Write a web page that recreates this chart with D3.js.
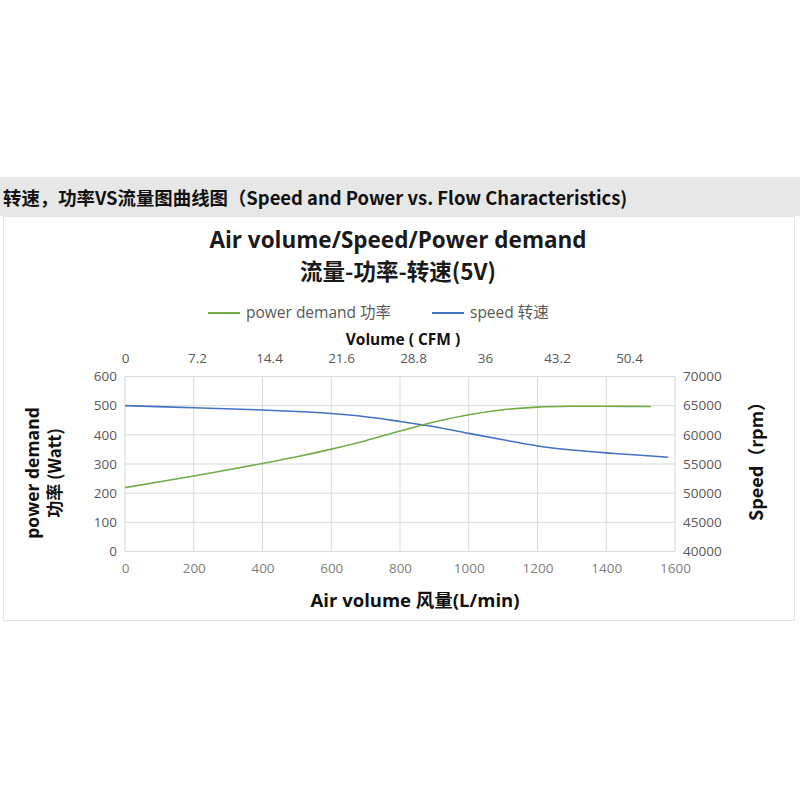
<!DOCTYPE html>
<html>
<head>
<meta charset="utf-8">
<script src="https://cdn.jsdelivr.net/npm/d3@7"></script>
<style>
  body { margin: 0; background: #fff; }
  text { font-family: "Open Sans", "Noto Sans CJK SC", sans-serif; }
  .cjk { font-family: "Noto Sans CJK SC", "Noto Sans", sans-serif; }
  .lat { font-family: "Open Sans", "Noto Sans CJK SC", sans-serif; }
</style>
</head>
<body>
<svg id="chart" width="800" height="800"></svg>
<script>
// data
const powerFlow = [0, 200, 400, 500, 600, 700, 800, 900, 1000, 1100, 1200, 1300, 1400, 1530];
const powerValues = [219, 259, 302, 325, 351, 380, 413, 444, 469, 486, 495, 498, 498, 497];
const speedFlow = [0, 200, 400, 500, 600, 700, 800, 900, 1000, 1100, 1200, 1300, 1400, 1500, 1580];
const speedValues = [65000, 64650, 64250, 64000, 63650, 63100, 62300, 61400, 60250, 59150, 58100, 57400, 56900, 56500, 56150];
const flowTicks = [0, 200, 400, 600, 800, 1000, 1200, 1400, 1600];
const cfmTicks = [0, 7.2, 14.4, 21.6, 28.8, 36, 43.2, 50.4];
const powerTicks = [0, 100, 200, 300, 400, 500, 600];
const speedTicks = [40000, 45000, 50000, 55000, 60000, 65000, 70000];

const green = '#70ad47';
const blue = '#4472c4';
const tickColor = '#595959';
const gridColor = '#d9d9d9';

const svg = d3.select('#chart');

// header band
svg.append('rect')
    .attr('x', 0).attr('y', 177).attr('width', 800).attr('height', 39)
    .attr('fill', '#e7e7e7');
svg.append('text')
    .attr('class', 'cjk')
    .attr('x', 3).attr('y', 205)
    .attr('font-size', 18.4).attr('font-weight', 'bold').attr('fill', '#111')
    .text('转速，功率VS流量图曲线图（Speed and Power vs. Flow Characteristics)');

// chart box
svg.append('rect')
    .attr('x', 3.5).attr('y', 216.5).attr('width', 791).attr('height', 404)
    .attr('fill', '#fff').attr('stroke', '#e6e6e6');

// titles
svg.append('text')
    .attr('class', 'lat')
    .attr('x', 398).attr('y', 248)
    .attr('text-anchor', 'middle')
    .attr('font-size', 22.5).attr('font-weight', 'bold').attr('fill', '#1a1a1a')
    .text('Air volume/Speed/Power demand');
svg.append('text')
    .attr('class', 'cjk')
    .attr('x', 398).attr('y', 280)
    .attr('text-anchor', 'middle')
    .attr('font-size', 22.5).attr('font-weight', 'bold').attr('fill', '#1a1a1a')
    .text('流量-功率-转速(5V)');

// legend
const legend = [
    {label: 'power demand 功率', color: green, x: 208},
    {label: 'speed 转速', color: blue, x: 432}
];
const lg = svg.append('g').selectAll('g').data(legend).enter().append('g')
    .attr('transform', d => `translate(${d.x},313)`);
lg.append('line')
    .attr('x1', 0).attr('x2', 32)
    .attr('stroke', d => d.color).attr('stroke-width', 2);
lg.append('text')
    .attr('class', 'lat')
    .attr('x', 38).attr('dy', '0.35em')
    .attr('font-size', 15.5).attr('fill', tickColor)
    .text(d => d.label);

// plot area
const plotLeft = 125, plotRight = 675, plotTop = 376.5, plotBottom = 551.5;

const x = d3.scaleLinear().domain([0, 1600]).range([plotLeft, plotRight]);
const xTop = d3.scaleLinear().domain([0, 55]).range([plotLeft, plotRight]);
const yLeft = d3.scaleLinear().domain([0, 600]).range([plotBottom, plotTop]);
const yRight = d3.scaleLinear().domain([40000, 70000]).range([plotBottom, plotTop]);

// grid
svg.append('g')
    .selectAll('line')
    .data(powerTicks)
    .enter().append('line')
    .attr('x1', plotLeft).attr('x2', plotRight)
    .attr('y1', d => yLeft(d)).attr('y2', d => yLeft(d))
    .attr('stroke', gridColor);
svg.append('g')
    .selectAll('line')
    .data(flowTicks)
    .enter().append('line')
    .attr('x1', d => x(d)).attr('x2', d => x(d))
    .attr('y1', plotTop).attr('y2', plotBottom)
    .attr('stroke', gridColor);

// axes
function styleAxis(g) {
    g.select('.domain').remove();
    g.selectAll('.tick line').remove();
    g.selectAll('.tick text')
        .attr('fill', tickColor)
        .attr('font-size', 13.5)
        .attr('font-family', '"Open Sans", sans-serif');
}

svg.append('g')
    .attr('transform', `translate(0,${plotBottom + 8})`)
    .call(d3.axisBottom(x).tickValues(flowTicks).tickFormat(d3.format('d')).tickSize(0).tickPadding(4))
    .call(styleAxis)
    .call(g => g.selectAll('.tick text').attr('fill', '#808080'));

svg.append('g')
    .attr('transform', `translate(0,${plotTop - 10})`)
    .call(d3.axisTop(xTop).tickValues(cfmTicks).tickFormat(d => String(d)).tickSize(0).tickPadding(4))
    .call(styleAxis);

svg.append('g')
    .attr('transform', `translate(${plotLeft - 8},0)`)
    .call(d3.axisLeft(yLeft).tickValues(powerTicks).tickSize(0).tickPadding(0))
    .call(styleAxis);

svg.append('g')
    .attr('transform', `translate(${plotRight + 8},0)`)
    .call(d3.axisRight(yRight).tickValues(speedTicks).tickFormat(d3.format('d')).tickSize(0).tickPadding(0))
    .call(styleAxis);

// lines
const powerLine = d3.line()
    .x((d, i) => x(powerFlow[i]))
    .y(d => yLeft(d))
    .curve(d3.curveCatmullRom.alpha(0.5));
const speedLine = d3.line()
    .x((d, i) => x(speedFlow[i]))
    .y(d => yRight(d))
    .curve(d3.curveCatmullRom.alpha(0.5));

svg.append('path')
    .datum(speedValues)
    .attr('d', speedLine)
    .attr('fill', 'none')
    .attr('stroke', blue)
    .attr('stroke-width', 1.6);
svg.append('path')
    .datum(powerValues)
    .attr('d', powerLine)
    .attr('fill', 'none')
    .attr('stroke', green)
    .attr('stroke-width', 1.6);

// axis titles
svg.append('text')
    .attr('class', 'lat')
    .attr('x', 403).attr('y', 345)
    .attr('text-anchor', 'middle')
    .attr('font-size', 15.5).attr('font-weight', 'bold').attr('fill', '#111')
    .text('Volume ( CFM )');

svg.append('text')
    .attr('class', 'lat')
    .attr('x', 415).attr('y', 607)
    .attr('text-anchor', 'middle')
    .attr('font-size', 18.5).attr('font-weight', 'bold').attr('fill', '#111')
    .text('Air volume 风量(L/min)');

svg.append('text')
    .attr('class', 'lat')
    .attr('transform', 'translate(39,473) rotate(-90)')
    .attr('text-anchor', 'middle')
    .attr('font-size', 17.5).attr('font-weight', 'bold').attr('fill', '#111')
    .text('power demand');
svg.append('text')
    .attr('class', 'cjk')
    .attr('transform', 'translate(61,473) rotate(-90)')
    .attr('text-anchor', 'middle')
    .attr('font-size', 17).attr('font-weight', 'bold').attr('fill', '#111')
    .text('功率 (Watt)');

svg.append('text')
    .attr('class', 'cjk')
    .attr('transform', 'translate(763,457) rotate(-90)')
    .attr('text-anchor', 'middle')
    .attr('font-size', 18).attr('font-weight', 'bold').attr('fill', '#111')
    .text('Speed（rpm）');
</script>
</body>
</html>
